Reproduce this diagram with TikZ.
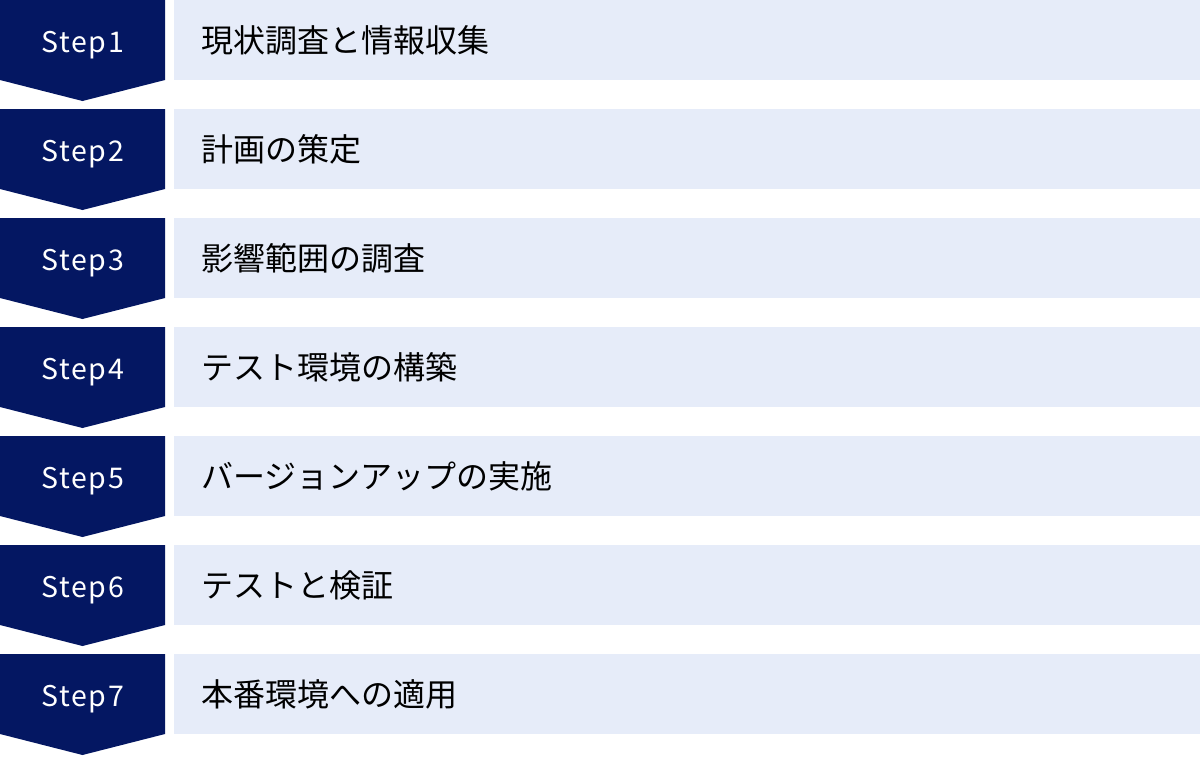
\documentclass[tikz,border=0pt]{standalone}
\usepackage{fontspec}
\newfontfamily\jp{Noto Sans CJK JP}
\newfontfamily\jplat[LetterSpace=6]{Noto Sans CJK JP}
\definecolor{navy}{HTML}{041762}
\definecolor{pale}{HTML}{E6ECF9}
\tikzset{
  stepshape/.style={fill=navy},
  steplabel/.style={text=white,font=\jplat\fontsize{28.5pt}{34pt}\selectfont,inner sep=0pt,anchor=base},
  taskbox/.style={fill=pale,minimum width=1026pt,minimum height=80pt,inner sep=0pt,anchor=north west},
  tasklabel/.style={text=black,font=\jp\fontsize{32pt}{38pt}\selectfont,inner sep=0pt,anchor=west}
}
\begin{document}
\begin{tikzpicture}[x=1pt,y=-1pt]
\useasboundingbox (0,0) rectangle (1200,756);
\foreach \i/\txt in {1/現状調査と情報収集,2/計画の策定,3/影響範囲の調査,4/テスト環境の構築,5/バージョンアップの実施,6/テストと検証,7/本番環境への適用}{
  \pgfmathsetmacro{\t}{(\i-1)*109}
  \fill[stepshape] (0,\t) -- (165,\t) -- (165,\t+80) -- (82.5,\t+101) -- (0,\t+80) -- cycle;
  \node[steplabel] (s\i) at (82.5,\t+52) {Step\i};
  \node[taskbox] (b\i) at (174,\t) {};
  \node[tasklabel] (t\i) at (201,\t+40) {\txt};
}
\end{tikzpicture}
\end{document}
